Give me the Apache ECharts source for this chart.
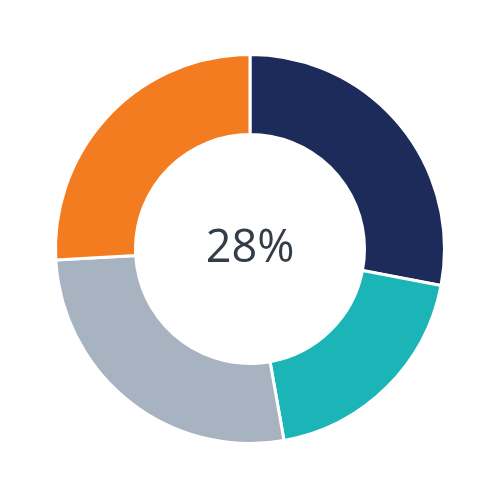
<!DOCTYPE html>
<html><head><meta charset="utf-8">
<script src="https://cdn.jsdelivr.net/npm/echarts@6/dist/echarts.min.js"></script>
<style>html,body{margin:0;padding:0;background:#fff}#c{width:500px;height:500px}</style>
</head><body><div id="c"></div>
<script>
const categories = ['A', 'B', 'C', 'D'];
const values = [28, 19.2, 26.9, 25.9];
const colors = ['#1c2b5a', '#1bb5b8', '#a8b3c1', '#f47c20'];
const centerLabel = '28%';

const chart = echarts.init(document.getElementById('c'), null, {renderer: 'canvas'});
chart.setOption({
  animation: false,
  backgroundColor: '#fff',
  graphic: [{
    type: 'text', left: 'center', top: 227,
    style: {text: centerLabel, font: '45px "Open Sans"', fill: '#333c47'}
  }],
  series: [{
    type: 'pie',
    center: [250, 249],
    radius: [114.5, 194.5],
    startAngle: 90,
    clockwise: true,
    label: {show: false},
    labelLine: {show: false},
    emphasis: {disabled: true},
    itemStyle: {borderColor: '#fff', borderWidth: 3},
    data: categories.map((c, i) => ({name: c, value: values[i], itemStyle: {color: colors[i]}}))
  }]
});
</script></body></html>
